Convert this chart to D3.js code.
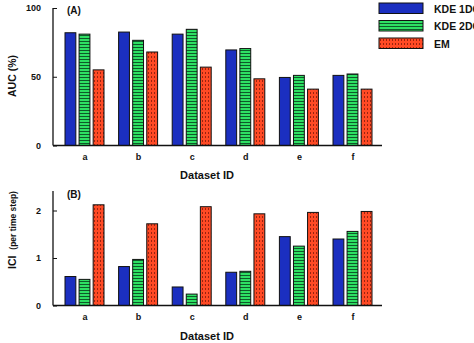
<!DOCTYPE html>
<html>
<head>
<meta charset="utf-8">
<script src="https://cdn.jsdelivr.net/npm/d3@7"></script>
<style>
body { margin: 0; background: #fff; }
svg { display: block; }
text { font-family: "Liberation Sans", Arial, sans-serif; font-weight: bold; fill: #111; }
</style>
</head>
<body>
<svg id="chart" width="474" height="343"></svg>
<script>
// data
var categories = ['a', 'b', 'c', 'd', 'e', 'f'];
var seriesNames = ['KDE 1DC', 'KDE 2DC', 'EM'];
var aucKde1 = [82, 82.5, 81, 69.5, 49.5, 51];
var aucKde2 = [81, 76.5, 84.5, 70.5, 51, 52];
var aucEm = [55, 68, 57, 48.5, 41, 41];
var iciKde1 = [0.61, 0.82, 0.39, 0.70, 1.45, 1.40];
var iciKde2 = [0.55, 0.97, 0.24, 0.72, 1.25, 1.56];
var iciEm = [2.12, 1.72, 2.08, 1.93, 1.96, 1.98];
var aucTicks = [0, 50, 100];
var iciTicks = [0, 1, 2];

var svg = d3.select('#chart');
var defs = svg.append('defs');

// green with horizontal stripes
var pg = defs.append('pattern').attr('id', 'pat-green')
  .attr('patternUnits', 'userSpaceOnUse').attr('width', 4).attr('height', 3);
pg.append('rect').attr('width', 4).attr('height', 3).attr('fill', '#2ee063');
pg.append('rect').attr('y', 2).attr('width', 4).attr('height', 1).attr('fill', '#0e5a2a');

// red with dashed vertical lines
var pr = defs.append('pattern').attr('id', 'pat-red')
  .attr('patternUnits', 'userSpaceOnUse').attr('width', 3).attr('height', 4);
pr.append('rect').attr('width', 3).attr('height', 4).attr('fill', '#ff4a25');
pr.append('rect').attr('x', 1).attr('y', 0).attr('width', 1).attr('height', 2).attr('fill', '#9a2410');

var fills = ['#1b2fc0', 'url(#pat-green)', 'url(#pat-red)'];

var x = d3.scalePoint().domain(categories).range([84.5, 352.5]);
var sub = d3.scaleBand().domain(d3.range(3)).range([-19.5, 19.5]).paddingInner(0.23);

function drawPanel(opts){
  var g = svg.append('g');
  var y = d3.scaleLinear().domain(opts.domain).range(opts.range);

  var series = [opts.s1, opts.s2, opts.s3];
  series.forEach(function(vals, si){
    g.selectAll('.bar' + si).data(vals).enter().append('rect')
      .attr('x', function(d, i){ return x(categories[i]) + sub(si); })
      .attr('width', sub.bandwidth())
      .attr('y', function(d){ return y(d); })
      .attr('height', function(d){ return y(0) - y(d); })
      .attr('fill', fills[si])
      .attr('stroke', '#111')
      .attr('stroke-width', 1);
  });

  // y axis
  var yAxis = g.append('g').attr('transform', 'translate(53,0)')
    .call(d3.axisLeft(y).tickValues(opts.ticks).tickFormat(d3.format('d')).tickSize(4).tickPadding(8));
  yAxis.select('.domain').attr('d', 'M0,' + opts.axisTop + 'V' + y(0)).attr('stroke', '#111').attr('stroke-width', 1.3);
  yAxis.selectAll('.tick line').attr('x1', 0).attr('x2', 4).attr('stroke', '#111');
  yAxis.selectAll('text').style('font-size', '9px');

  // x axis
  var xAxis = g.append('g').attr('transform', 'translate(0,' + y(0) + ')')
    .call(d3.axisBottom(x).tickSize(0).tickPadding(8));
  xAxis.select('.domain').attr('d', 'M53,0H382').attr('stroke', '#111').attr('stroke-width', 1.3);
  xAxis.selectAll('text').style('font-size', '9px');

  g.append('text').attr('x', 67).attr('y', opts.tagY).style('font-size', '10px').text(opts.tag);
  g.append('text').attr('x', 207).attr('y', opts.xTitleY).attr('text-anchor', 'middle')
    .style('font-size', '11px').text('Dataset ID');
  var yt = g.append('text')
    .attr('transform', 'translate(16,' + opts.yTitleMid + ') rotate(-90)')
    .attr('text-anchor', 'middle').style('white-space', 'pre');
  opts.yTitle.forEach(function(part){
    yt.append('tspan').style('font-size', part[1] + 'px').text(part[0]);
  });
}

drawPanel({ domain: [0, 100], range: [145.5, 8], ticks: aucTicks, axisTop: 8,
  s1: aucKde1, s2: aucKde2, s3: aucEm, tag: '(A)', tagY: 14, xTitleY: 179,
  yTitleMid: 76, yTitle: [['AUC (%)', 10.5]] });

drawPanel({ domain: [0, 2], range: [305.5, 210.5], ticks: iciTicks, axisTop: 191,
  s1: iciKde1, s2: iciKde2, s3: iciEm, tag: '(B)', tagY: 198, xTitleY: 340,
  yTitleMid: 230, yTitle: [['ICI  ', 10.5], ['(per time step)', 8.5]] });

// legend
var leg = svg.append('g').attr('transform', 'translate(379,3)');
seriesNames.forEach(function(name, i){
  leg.append('rect').attr('x', 0).attr('y', i * 17.5).attr('width', 44).attr('height', 10.5)
    .attr('fill', fills[i]).attr('stroke', '#111').attr('stroke-width', 1);
  leg.append('text').attr('x', 55).attr('y', i * 17.5 + 9.5).style('font-size', '10.5px').text(name);
});
</script>
</body>
</html>
